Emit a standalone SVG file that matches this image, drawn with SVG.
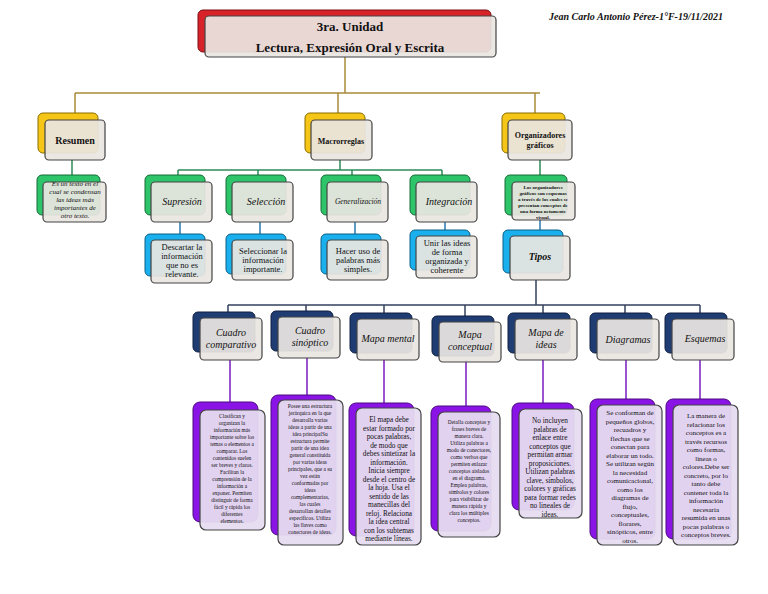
<svg xmlns="http://www.w3.org/2000/svg" width="768" height="594" viewBox="0 0 768 594" font-family="'Liberation Serif', serif">
<style>
text{font-family:"Liberation Serif","Times New Roman",serif;text-anchor:middle;fill:#111}
.f{fill:#e9e5e1;fill-opacity:.93;stroke:#444;stroke-width:1.2}
.y{fill:#f5c518;stroke:#8a6d00}
.g{fill:#2ec46a;stroke:#146b36}
.b{fill:#1ab0ee;stroke:#0a5f85}
.n{fill:#1f3d73;stroke:#0f1f40}
.p{fill:#8a14e6;stroke:#4b0a80}
.r{fill:#d8222a;stroke:#7a0d12}
.pf{fill:#e6dcf0;fill-opacity:.95;stroke:#444;stroke-width:1.2}
.c{fill:none;stroke-width:1.5}
.bi{font-weight:bold;font-style:italic}
.it{font-style:italic}
</style>
<rect width="768" height="594" fill="#fff"/>
<g id="connectors">
<path class="c" stroke="#a88a3a" d="M345 57V93M75 93H540M75 93V113M338 93V113M535 93V113"/>
<path class="c" stroke="#2c8a5a" d="M72 160V175M340 160V170M178 170H442M178 170V175M258 170V175M352 170V175M442 170V175M540 160V175"/>
<path class="c" stroke="#2a7ab0" d="M180 222V234M260 222V234M355 222V234M445 222V230M540 220V230"/>
<path class="c" stroke="#33405e" d="M536 280V305M228 305H700M228 305V312M306 305V312M384 305V313M465 305V316M543 305V313M625 305V313M700 305V313"/>
<path class="c" stroke="#7a1cc0" d="M230 360V402M307 358V395M384 360V403M466 360V406M543 360V403M626 360V399M700 360V399"/>
</g>
<g id="title"><rect class="r" x="198" y="10" width="293" height="42" rx="5"/><rect class="f" x="205" y="16" width="291" height="41" rx="4" fill="#f0dada"/>
<text x="350" y="31" font-size="13" font-weight="bold">3ra. Unidad</text><text x="350" y="52" font-size="13" font-weight="bold">Lectura, Expresión Oral y Escrita</text></g>
<g id="author"><text x="636" y="20" font-size="10" class="bi">Jean Carlo Antonio Pérez-1°F-19/11/2021</text></g>
<g id="resumen"><rect class="y" x="38" y="113" width="60" height="40" rx="5"/><rect class="f" x="45" y="120" width="60" height="40" rx="4"/><text x="75" y="144" font-size="10" font-weight="bold">Resumen</text></g>
<g id="macro"><rect class="y" x="305" y="113" width="60" height="40" rx="5"/><rect class="f" x="311" y="120" width="61" height="40" rx="4"/><text x="341" y="144" font-size="8" font-weight="bold">Macrorreglas</text></g>
<g id="org"><rect class="y" x="502" y="113" width="63" height="40" rx="5"/><rect class="f" x="508" y="120" width="64" height="40" rx="4"/><text x="540" y="138" font-size="8" font-weight="bold">Organizadores</text><text x="540" y="148" font-size="8" font-weight="bold">gráficos</text></g>
<g id="resumen-def"><rect class="g" x="37" y="175" width="63" height="40" rx="5"/><rect class="f" x="43" y="182" width="63" height="40" rx="4"/>
<text font-size="7" class="it"><tspan x="75" y="186">Es un texto en el</tspan><tspan x="75" y="194">cual se condensan</tspan><tspan x="75" y="202">las ideas más</tspan><tspan x="75" y="210">importantes de</tspan><tspan x="75" y="218">otro texto.</tspan></text></g>
<g id="supresion"><rect class="g" x="145" y="175" width="60" height="40" rx="5"/><rect class="f" x="151" y="182" width="61" height="40" rx="4"/><text x="182" y="205" font-size="10" class="it">Supresión</text></g>
<g id="seleccion"><rect class="g" x="226" y="175" width="60" height="40" rx="5"/><rect class="f" x="232" y="182" width="61" height="40" rx="4"/><text x="266" y="205" font-size="10" class="it">Selección</text></g>
<g id="general"><rect class="g" x="321" y="175" width="60" height="40" rx="5"/><rect class="f" x="327" y="182" width="61" height="40" rx="4"/><text x="358" y="204" font-size="7.5" class="it">Generalización</text></g>
<g id="integ"><rect class="g" x="410" y="175" width="60" height="40" rx="5"/><rect class="f" x="416" y="182" width="61" height="40" rx="4"/><text x="449" y="205" font-size="10" class="it">Integración</text></g>
<g id="orgdef"><rect class="g" x="505" y="175" width="62" height="40" rx="5"/><rect class="f" x="512" y="182" width="63" height="38" rx="4"/>
<text font-size="5" font-weight="bold"><tspan x="543" y="189">Los organizadores</tspan><tspan x="543" y="195">gráficos son esquemas</tspan><tspan x="543" y="201">a través de los cuales se</tspan><tspan x="543" y="207">presentan conceptos de</tspan><tspan x="543" y="213">una forma netamente</tspan><tspan x="543" y="219">visual.</tspan></text></g>
<g id="sup-d"><rect class="b" x="145" y="234" width="60" height="42" rx="5"/><rect class="f" x="151" y="240" width="61" height="43" rx="4"/>
<text font-size="8.5"><tspan x="182" y="250">Descartar la</tspan><tspan x="182" y="259">información</tspan><tspan x="182" y="268">que no es</tspan><tspan x="182" y="277">relevante.</tspan></text></g>
<g id="sel-d"><rect class="b" x="226" y="234" width="60" height="40" rx="5"/><rect class="f" x="232" y="240" width="61" height="40" rx="4"/>
<text font-size="8.5"><tspan x="263" y="254">Seleccionar la</tspan><tspan x="263" y="263">información</tspan><tspan x="263" y="272">importante.</tspan></text></g>
<g id="gen-d"><rect class="b" x="321" y="234" width="60" height="40" rx="5"/><rect class="f" x="327" y="240" width="61" height="40" rx="4"/>
<text font-size="8.5"><tspan x="358" y="254">Hacer uso de</tspan><tspan x="358" y="263">palabras más</tspan><tspan x="358" y="272">simples.</tspan></text></g>
<g id="int-d"><rect class="b" x="410" y="230" width="60" height="40" rx="5"/><rect class="f" x="416" y="236" width="61" height="42" rx="4"/>
<text font-size="8.5"><tspan x="447" y="246">Unir las ideas</tspan><tspan x="447" y="255">de forma</tspan><tspan x="447" y="264">organizada y</tspan><tspan x="447" y="273">coherente</tspan></text></g>
<g id="tipos"><rect class="b" x="503" y="230" width="60" height="43" rx="5"/><rect class="f" x="510" y="236" width="60" height="44" rx="4"/><text x="540" y="260" font-size="10" class="bi">Tipos</text></g>
<g id="t1"><rect class="n" x="193" y="312" width="62" height="40" rx="5"/><rect class="f" x="200" y="318" width="62" height="42" rx="4"/><text font-size="10" class="it"><tspan x="231" y="336">Cuadro</tspan><tspan x="231" y="348">comparativo</tspan></text></g>
<g id="t2"><rect class="n" x="271" y="311" width="62" height="40" rx="5"/><rect class="f" x="278" y="317" width="62" height="41" rx="4"/><text font-size="10" class="it"><tspan x="310" y="334">Cuadro</tspan><tspan x="310" y="346">sinóptico</tspan></text></g>
<g id="t3"><rect class="n" x="350" y="313" width="62" height="40" rx="5"/><rect class="f" x="357" y="319" width="62" height="41" rx="4"/><text x="388" y="342" font-size="10" class="it">Mapa mental</text></g>
<g id="t4"><rect class="n" x="432" y="316" width="62" height="40" rx="5"/><rect class="f" x="439" y="322" width="62" height="40" rx="4"/><text font-size="10" class="it"><tspan x="470" y="338">Mapa</tspan><tspan x="470" y="350">conceptual</tspan></text></g>
<g id="t5"><rect class="n" x="508" y="313" width="62" height="40" rx="5"/><rect class="f" x="515" y="319" width="62" height="41" rx="4"/><text font-size="10" class="it"><tspan x="546" y="336">Mapa de</tspan><tspan x="546" y="348">ideas</tspan></text></g>
<g id="t6"><rect class="n" x="590" y="313" width="62" height="40" rx="5"/><rect class="f" x="597" y="319" width="62" height="41" rx="4"/><text x="628" y="343" font-size="10" class="it">Diagramas</text></g>
<g id="t7"><rect class="n" x="665" y="313" width="62" height="40" rx="5"/><rect class="f" x="672" y="319" width="62" height="41" rx="4"/><text x="705" y="342" font-size="10" class="it">Esquemas</text></g>
<g id="d1"><rect class="p" x="193" y="402" width="65" height="120" rx="7"/><rect class="pf" x="200" y="410" width="65" height="120" rx="6"/>
<text font-size="5.4"><tspan x="232" y="418">Clasifican y</tspan><tspan x="232" y="425">organizan la</tspan><tspan x="232" y="432">información más</tspan><tspan x="232" y="439">importante sobre los</tspan><tspan x="232" y="446">temas o elementos a</tspan><tspan x="232" y="453">comparar. Los</tspan><tspan x="232" y="460">contenidos suelen</tspan><tspan x="232" y="467">ser breves y claros.</tspan><tspan x="232" y="474">Facilitan la</tspan><tspan x="232" y="481">comprensión de la</tspan><tspan x="232" y="488">información a</tspan><tspan x="232" y="495">exponer. Permiten</tspan><tspan x="232" y="502">distinguir de forma</tspan><tspan x="232" y="509">fácil y rápida los</tspan><tspan x="232" y="516">diferentes</tspan><tspan x="232" y="523">elementos.</tspan></text></g>
<g id="d2"><rect class="p" x="271" y="395" width="65" height="140" rx="7"/><rect class="pf" x="278" y="400" width="65" height="145" rx="6"/>
<text font-size="5.4"><tspan x="310" y="408">Posee una estructura</tspan><tspan x="310" y="415">jerárquica en la que</tspan><tspan x="310" y="422">desarrolla varias</tspan><tspan x="310" y="429">ideas a partir de una</tspan><tspan x="310" y="436">idea principalSu</tspan><tspan x="310" y="443">estructura permite</tspan><tspan x="310" y="450">partir de una idea</tspan><tspan x="310" y="457">general constituida</tspan><tspan x="310" y="464">por varias ideas</tspan><tspan x="310" y="471">principales, que a su</tspan><tspan x="310" y="478">vez están</tspan><tspan x="310" y="485">conformadas por</tspan><tspan x="310" y="492">ideas</tspan><tspan x="310" y="499">complementarias,</tspan><tspan x="310" y="506">las cuales</tspan><tspan x="310" y="513">desarrollan detalles</tspan><tspan x="310" y="520">específicos. Utiliza</tspan><tspan x="310" y="527">las llaves como</tspan><tspan x="310" y="534">conectores de ideas.</tspan></text></g>
<g id="d3"><rect class="p" x="349" y="403" width="65" height="133" rx="7"/><rect class="pf" x="356" y="408" width="65" height="137" rx="6"/>
<text font-size="7.3"><tspan x="389" y="422">El mapa debe</tspan><tspan x="389" y="430.5">estar formado por</tspan><tspan x="389" y="439">pocas palabras,</tspan><tspan x="389" y="447.5">de modo que</tspan><tspan x="389" y="456">debes sintetizar la</tspan><tspan x="389" y="464.5">información.</tspan><tspan x="389" y="473">Inicia siempre</tspan><tspan x="389" y="481.5">desde el centro de</tspan><tspan x="389" y="490">la hoja. Usa el</tspan><tspan x="389" y="498.5">sentido de las</tspan><tspan x="389" y="507">manecillas del</tspan><tspan x="389" y="515.5">reloj. Relaciona</tspan><tspan x="389" y="524">la idea central</tspan><tspan x="389" y="532.5">con los subtemas</tspan><tspan x="389" y="541">mediante líneas.</tspan></text></g>
<g id="d4"><rect class="p" x="431" y="406" width="60" height="125" rx="7"/><rect class="pf" x="438" y="412" width="62" height="125" rx="6"/>
<text font-size="5.4"><tspan x="469" y="424">Detalla conceptos y</tspan><tspan x="469" y="431">frases breves de</tspan><tspan x="469" y="438">manera clara.</tspan><tspan x="469" y="445">Utiliza palabras a</tspan><tspan x="469" y="452">modo de conectores,</tspan><tspan x="469" y="459">como verbos que</tspan><tspan x="469" y="466">permiten enlazar</tspan><tspan x="469" y="473">conceptos aislados</tspan><tspan x="469" y="480">en el diagrama.</tspan><tspan x="469" y="487">Emplea palabras,</tspan><tspan x="469" y="494">símbolos y colores</tspan><tspan x="469" y="501">para visibilizar de</tspan><tspan x="469" y="508">manera rápida y</tspan><tspan x="469" y="515">clara los múltiples</tspan><tspan x="469" y="522">conceptos.</tspan></text></g>
<g id="d5"><rect class="p" x="512" y="403" width="62" height="107" rx="7"/><rect class="pf" x="519" y="409" width="63" height="109" rx="6"/>
<text font-size="7.3"><tspan x="550" y="423">No incluyen</tspan><tspan x="550" y="431.5">palabras de</tspan><tspan x="550" y="440">enlace entre</tspan><tspan x="550" y="448.5">conceptos que</tspan><tspan x="550" y="457">permitan armar</tspan><tspan x="550" y="465.5">proposiciones.</tspan><tspan x="550" y="474">Utilizan palabras</tspan><tspan x="550" y="482.5">clave, símbolos,</tspan><tspan x="550" y="491">colores y gráficas</tspan><tspan x="550" y="499.5">para formar redes</tspan><tspan x="550" y="508">no lineales de</tspan><tspan x="550" y="516.5">ideas.</tspan></text></g>
<g id="d6"><rect class="p" x="590" y="399" width="65" height="140" rx="7"/><rect class="pf" x="597" y="405" width="65" height="140" rx="6"/>
<text font-size="7"><tspan x="630" y="415">Se conforman de</tspan><tspan x="630" y="423.5">pequeños globos,</tspan><tspan x="630" y="432">recuadros y</tspan><tspan x="630" y="440.5">flechas que se</tspan><tspan x="630" y="449">conectan para</tspan><tspan x="630" y="457.5">elaborar un todo.</tspan><tspan x="630" y="466">Se utilizan según</tspan><tspan x="630" y="474.5">la necesidad</tspan><tspan x="630" y="483">comunicacional,</tspan><tspan x="630" y="491.5">como los</tspan><tspan x="630" y="500">diagramas de</tspan><tspan x="630" y="508.5">flujo,</tspan><tspan x="630" y="517">conceptuales,</tspan><tspan x="630" y="525.5">florares,</tspan><tspan x="630" y="534">sinópticos, entre</tspan><tspan x="630" y="542.5">otros.</tspan></text></g>
<g id="d7"><rect class="p" x="666" y="399" width="65" height="140" rx="7"/><rect class="pf" x="673" y="405" width="65" height="140" rx="6"/>
<text font-size="7"><tspan x="706" y="418">La manera de</tspan><tspan x="706" y="426.5">relacionar los</tspan><tspan x="706" y="435">conceptos es a</tspan><tspan x="706" y="443.5">través recursos</tspan><tspan x="706" y="452">como formas,</tspan><tspan x="706" y="460.5">líneas o</tspan><tspan x="706" y="469">colores.Debe ser</tspan><tspan x="706" y="477.5">concreto, por lo</tspan><tspan x="706" y="486">tanto debe</tspan><tspan x="706" y="494.5">contener toda la</tspan><tspan x="706" y="503">información</tspan><tspan x="706" y="511.5">necesaria</tspan><tspan x="706" y="520">resumida en unas</tspan><tspan x="706" y="528.5">pocas palabras o</tspan><tspan x="706" y="537">conceptos breves.</tspan></text></g>
</svg>
